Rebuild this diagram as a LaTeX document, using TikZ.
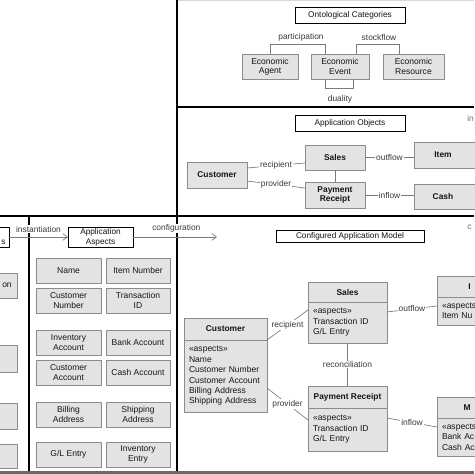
\documentclass[tikz,border=0pt]{standalone}
\usepackage{fontspec}
\setmainfont{Liberation Sans}
\usetikzlibrary{arrows.meta}
\definecolor{boxfill}{HTML}{E3E3E3}
\definecolor{boxline}{HTML}{8C8C8C}
\definecolor{conncol}{HTML}{7A7A7A}
\definecolor{lblcol}{HTML}{3A3A3A}
\definecolor{txtcol}{HTML}{151515}
\definecolor{bandcol}{HTML}{6A6A6A}
\begin{document}
\begin{tikzpicture}[x=0.75pt,y=-0.75pt,
  sz/.style 2 args={minimum width=#1*0.75pt, minimum height=#2*0.75pt},
  bw/.style={text width=#1*0.75pt},
  base/.style={inner sep=0pt, outer sep=0pt, anchor=north west, align=center, text=txtcol, font=\fontsize{6.4}{7}\selectfont},
  gbox/.style={base, draw=boxline, fill=boxfill, line width=0.6pt},
  gboxb/.style={gbox, font=\bfseries\fontsize{6.3}{7}\selectfont},
  tbox/.style={base, draw=black, fill=white, line width=0.7pt, font=\fontsize{6.2}{7.4}\selectfont},
  hbox/.style={gbox, font=\bfseries\fontsize{6.3}{7.5}\selectfont},
  bbox/.style={gbox, align=left, inner xsep=3.75pt, font=\fontsize{6.4}{7.8}\selectfont},
  frame/.style={line width=1.9pt, black},
  conn/.style={draw=conncol, line width=0.5pt},
  arr/.style={conn, -{Straight Barb[length=3.5pt,width=5pt]}},
  lbl/.style={inner sep=0.6pt, fill=white, text=lblcol, font=\fontsize{6.3}{7}\selectfont},
  edge/.style={inner sep=0pt, text=black!55, font=\fontsize{6.3}{7}\selectfont, anchor=west}
]
\useasboundingbox (0,0) rectangle (474,474);
\fill[white] (0,0) rectangle (474,474);

% frame
\fill[black!15] (177,0) rectangle (474,1.5);
\draw[frame] (177,0) -- (177,471);
\draw[frame] (177,107) -- (474,107);
\draw[frame] (0,216) -- (474,216);
\draw[frame] (29,216) -- (29,471);
\fill[bandcol] (0,471) rectangle (474,474);

% ---------- Ontological Categories ----------
\node[tbox, sz={110}{16}] (oc) at (295,7) {Ontological Categories};
\node[gbox, sz={56}{25}] (ea) at (242,54) {Economic\\Agent};
\node[gbox, sz={58}{25}] (ev) at (311,54) {Economic\\Event};
\node[gbox, sz={61}{25}] (er) at (383,54) {Economic\\Resource};
\draw[conn] (ea.north) -- ++(0,-10) -| ([xshift=-11.25pt]ev.north);
\draw[conn] ([xshift=12pt]ev.north) -- ++(0,-10) -| ([xshift=-10.9pt]er.north);
\draw[conn] ([xshift=-11.25pt]ev.south) -- ++(0,9) -| ([xshift=9.75pt]ev.south);
\node[lbl] (lpart) at (301,37) {participation};
\node[lbl] (lstock) at (379,37) {stockflow};
\node[lbl] (ldual) at (340,99) {duality};

% ---------- Application Objects ----------
\node[tbox, sz={110}{16}] (ao) at (295,115) {Application Objects};
\node[edge] (tin) at (467,118) {in};
\node[gboxb, sz={60}{26}] (cu) at (187,162) {Customer};
\node[gboxb, sz={60}{25}] (sa) at (305,145) {Sales};
\node[gboxb, sz={60}{26}] (pr) at (305,182) {Payment\\Receipt};
\node[gboxb, sz={66}{26}] (it) at (414,142) {Item\hspace*{6pt}};
\node[gboxb, sz={66}{25}] (ca) at (414,184) {Cash\hspace*{6pt}};
\draw[conn] ([yshift=5.25pt]cu.east) -- node[lbl] (lrec1) {recipient} ([yshift=-4.1pt]sa.west);
\draw[conn] ([yshift=-4.5pt]cu.east) -- node[lbl] (lprov1) {provider} ([yshift=5.25pt]pr.west);
\draw[conn] (sa.south) -- (pr.north);
\draw[conn] (sa.east) -- node[lbl] (lout1) {outflow} (sa.east -| it.west);
\draw[conn] (pr.east) -- node[lbl] (lin1) {inflow} (pr.east -| ca.west);

% ---------- left partial panel ----------
\node[tbox, sz={11}{20}] (ls) at (-2,227) {\strut\\[-1.5pt]s};
\node[gbox, sz={20}{25}] (lon) at (-3,273) {on};
\node[gbox, sz={20}{27}] (lb1) at (-3,345) {};
\node[gbox, sz={20}{26}] (lb2) at (-3,403) {};
\node[gbox, sz={20}{24}] (lb3) at (-3,444) {};

% ---------- Application Aspects ----------
\node[tbox, sz={65}{20}, font=\fontsize{6.2}{7.5}\selectfont] (aa) at (68,227) {Application\\Aspects};
\draw[arr] (ls.east |- aa.west) -- node[lbl, yshift=6pt] (linst) {instantiation} (aa.west);
\coordinate (cfgend) at (217,237);
\draw[arr] (aa.east) -- node[lbl, yshift=6.5pt, xshift=1pt] (lconf) {configuration} (cfgend);

\node[gbox, sz={65}{25}] (a1) at (36,258) {Name};
\node[gbox, sz={64}{25}] (a2) at (106,258) {Item Number};
\node[gbox, sz={65}{25}] (a3) at (36,288) {Customer\\Number};
\node[gbox, sz={64}{25}] (a4) at (106,288) {Transaction\\ID};
\node[gbox, sz={65}{25}] (a5) at (36,330) {Inventory\\Account};
\node[gbox, sz={64}{25}] (a6) at (106,330) {Bank Account};
\node[gbox, sz={65}{25}] (a7) at (36,360) {Customer\\Account};
\node[gbox, sz={64}{25}] (a8) at (106,360) {Cash Account};
\node[gbox, sz={65}{25}] (a9) at (36,402) {Billing\\Address};
\node[gbox, sz={64}{25}] (a10) at (106,402) {Shipping\\Address};
\node[gbox, sz={65}{25}] (a11) at (36,442) {G/L Entry};
\node[gbox, sz={64}{25}] (a12) at (106,442) {Inventory\\Entry};

% ---------- Configured Application Model ----------
\node[tbox, sz={148}{12}] (cam) at (276,230) {Configured Application Model};
\node[edge] (tco) at (467,227) {c};

\node[hbox, sz={79}{20}] (sah) at (308,282) {Sales};
\node[bbox, sz={79}{41}, bw=69] (sab) at (308,302) {«aspects»\\Transaction ID\\G/L Entry};
\node[hbox, sz={83}{22}] (cuh) at (184,318) {Customer};
\node[bbox, sz={83}{72}, bw=73] (cub) at (184,340) {«aspects»\\Name\\Customer Number\\Customer Account\\Billing Address\\Shipping Address};
\node[hbox, sz={79}{22}] (prh) at (308,386) {Payment Receipt};
\node[bbox, sz={79}{43}, bw=69] (prb) at (308,408) {«aspects»\\Transaction ID\\G/L Entry};
\node[hbox, sz={45}{21}, align=left, inner xsep=0pt, bw=45] (ith) at (437,276) {\hspace*{23.5pt}I};
\node[bbox, sz={45}{28}, bw=35] (itb) at (437,297) {«aspects\\Item Nu};
\node[hbox, sz={45}{21}, align=left, inner xsep=0pt, bw=45] (moh) at (437,397) {\hspace*{20pt}M};
\node[bbox, sz={45}{38}, bw=35] (mob) at (437,418) {«aspects\\Bank Ac\\Cash Ac};

\draw[conn] (cub.north east) -- node[lbl] (lrec2) {recipient} ([yshift=9.4pt]sab.west);
\draw[conn] ([yshift=-9pt]cub.east) -- node[lbl] (lprov2) {provider} ([yshift=7.1pt]prb.west);
\draw[conn] (sab.south) -- node[lbl] (lrecon) {reconciliation} (prh.north);
\draw[conn] ([yshift=7.9pt]sab.east) -- node[lbl] (lout2) {outflow} ([yshift=3.75pt]itb.west);
\draw[conn] ([yshift=8.6pt]prb.east) -- node[lbl] (lin2) {inflow} ([yshift=7.5pt]mob.west);
\end{tikzpicture}
\end{document}
